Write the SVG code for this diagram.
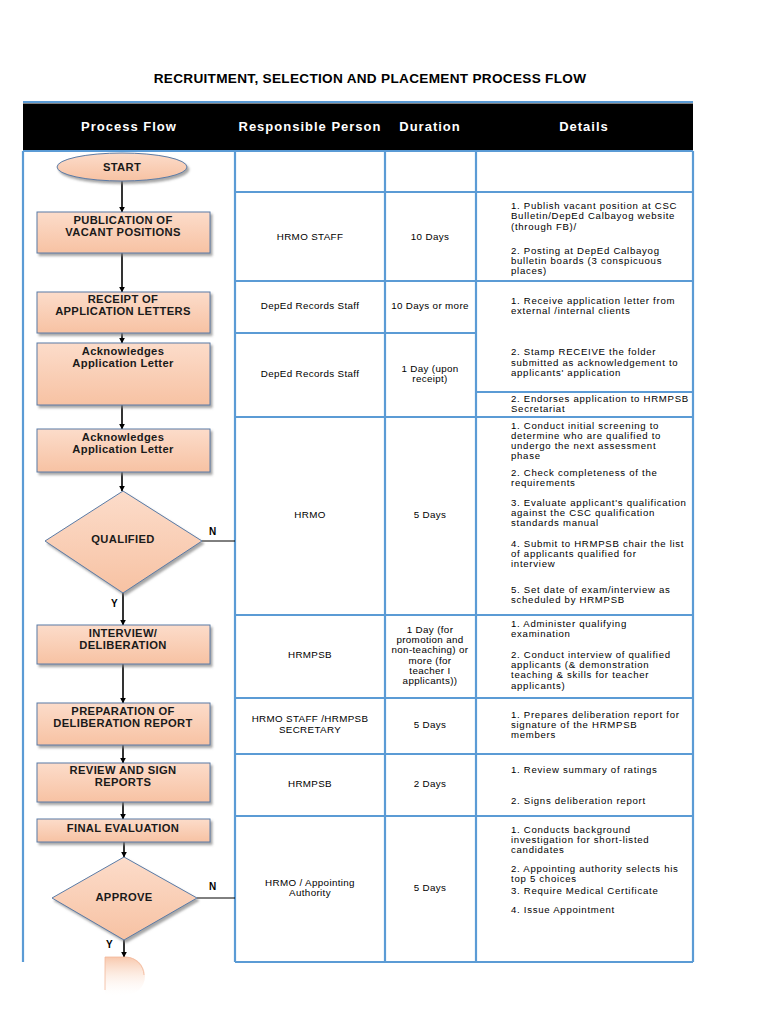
<svg xmlns="http://www.w3.org/2000/svg" width="768" height="1024" viewBox="0 0 768 1024">
<defs>
<linearGradient id="peach" x1="0" y1="0" x2="0" y2="1">
<stop offset="0" stop-color="#FCDCCA"/>
<stop offset="1" stop-color="#F7C2A3"/>
</linearGradient>
<linearGradient id="fade" x1="0" y1="0" x2="0" y2="1">
<stop offset="0" stop-color="#F8C8AC"/>
<stop offset="1" stop-color="#FFFFFF" stop-opacity="0.2"/>
</linearGradient>
<filter id="sh" x="-10%" y="-10%" width="130%" height="140%">
<feDropShadow dx="2" dy="2.5" stdDeviation="1.2" flood-color="#808080" flood-opacity="0.7"/>
</filter>
<marker id="ah" viewBox="0 0 10 10" refX="9" refY="5" markerWidth="6" markerHeight="6" orient="auto" markerUnits="userSpaceOnUse">
<path d="M0,0 L10,5 L0,10 z" fill="#000"/>
</marker>
</defs>
<style>
.title{font-family:"Liberation Sans",Arial,sans-serif;font-weight:bold;font-size:13.6px;letter-spacing:0.3px;fill:#000}
.hdr{font-family:"Liberation Sans",Arial,sans-serif;font-weight:bold;font-size:13px;fill:#fff;letter-spacing:1px}
.grid{stroke:#5B9BD5;stroke-width:2.2;fill:none}
.box{fill:url(#peach);stroke:#5A7BA6;stroke-width:1;filter:url(#sh)}
.bt{font-family:"Liberation Sans",Arial,sans-serif;font-weight:bold;font-size:11.2px;letter-spacing:0.35px;fill:#1a1a1a;text-anchor:middle}
.lbl{font-family:"Liberation Sans",Arial,sans-serif;font-weight:bold;font-size:10px;fill:#000}
.c{font-family:"Liberation Sans",Arial,sans-serif;font-size:9.8px;letter-spacing:0.35px;fill:#000;text-anchor:middle}
.d{font-family:"Liberation Sans",Arial,sans-serif;font-size:9.6px;letter-spacing:0.72px;fill:#000}
.ar{stroke:#000;stroke-width:1.6;fill:none;marker-end:url(#ah)}
.ln{stroke:#000;stroke-width:1;fill:none}
</style>
<rect width="768" height="1024" fill="#fff"/>
<text class="title" x="370" y="83" text-anchor="middle">RECRUITMENT, SELECTION AND PLACEMENT PROCESS FLOW</text>

<g id="table">
<line x1="23" y1="102" x2="693" y2="102" stroke="#5B9BD5" stroke-width="2"/>
<rect x="23" y="103.5" width="670" height="47" fill="#000"/>
<text class="hdr" x="129" y="131" text-anchor="middle">Process Flow</text>
<text class="hdr" x="310" y="131" text-anchor="middle">Responsible Person</text>
<text class="hdr" x="430" y="131" text-anchor="middle">Duration</text>
<text class="hdr" x="584" y="131" text-anchor="middle">Details</text>
<line class="grid" x1="23" y1="151" x2="693" y2="151"/>
<line class="grid" x1="23" y1="151" x2="23" y2="962"/>
<line class="grid" x1="235" y1="151" x2="235" y2="962"/>
<line class="grid" x1="385" y1="151" x2="385" y2="962"/>
<line class="grid" x1="476" y1="151" x2="476" y2="962"/>
<line class="grid" x1="693" y1="151" x2="693" y2="962"/>
<line class="grid" x1="235" y1="192" x2="693" y2="192"/>
<line class="grid" x1="235" y1="281" x2="693" y2="281"/>
<line class="grid" x1="235" y1="333" x2="476" y2="333"/>
<line class="grid" x1="476" y1="392" x2="693" y2="392"/>
<line class="grid" x1="235" y1="417" x2="693" y2="417"/>
<line class="grid" x1="235" y1="615" x2="693" y2="615"/>
<line class="grid" x1="235" y1="698" x2="693" y2="698"/>
<line class="grid" x1="235" y1="754" x2="693" y2="754"/>
<line class="grid" x1="235" y1="816" x2="693" y2="816"/>
<line class="grid" x1="235" y1="962" x2="693" y2="962"/>
</g>

<g id="responsible">
<text class="c" x="310" y="240">HRMO STAFF</text>
<text class="c" x="310" y="309">DepEd Records Staff</text>
<text class="c" x="310" y="377">DepEd Records Staff</text>
<text class="c" x="310" y="518">HRMO</text>
<text class="c" x="310" y="658">HRMPSB</text>
<text class="c" x="310" y="722">HRMO STAFF /HRMPSB</text>
<text class="c" x="310" y="733">SECRETARY</text>
<text class="c" x="310" y="787">HRMPSB</text>
<text class="c" x="310" y="886">HRMO / Appointing</text>
<text class="c" x="310" y="896">Authority</text>
</g>

<g id="duration">
<text class="c" x="430" y="240">10 Days</text>
<text class="c" x="430" y="309">10 Days or more</text>
<text class="c" x="430" y="372">1 Day (upon</text>
<text class="c" x="430" y="382">receipt)</text>
<text class="c" x="430" y="518">5 Days</text>
<text class="c" x="430" y="633">1 Day (for</text>
<text class="c" x="430" y="643">promotion and</text>
<text class="c" x="430" y="653">non-teaching) or</text>
<text class="c" x="430" y="664">more (for</text>
<text class="c" x="430" y="674">teacher I</text>
<text class="c" x="430" y="684">applicants))</text>
<text class="c" x="430" y="728">5 Days</text>
<text class="c" x="430" y="787">2 Days</text>
<text class="c" x="430" y="891">5 Days</text>
</g>

<g id="details">
<text class="d" x="511" y="209">1. Publish vacant position at CSC</text>
<text class="d" x="511" y="219">Bulletin/DepEd Calbayog website</text>
<text class="d" x="511" y="230">(through FB)/</text>
<text class="d" x="511" y="254">2. Posting at DepEd Calbayog</text>
<text class="d" x="511" y="264">bulletin boards (3 conspicuous</text>
<text class="d" x="511" y="274">places)</text>
<text class="d" x="511" y="304">1. Receive application letter from</text>
<text class="d" x="511" y="314">external /internal clients</text>
<text class="d" x="511" y="355">2. Stamp RECEIVE the folder</text>
<text class="d" x="511" y="366">submitted as acknowledgement to</text>
<text class="d" x="511" y="376">applicants' application</text>
<text class="d" x="511" y="402">2. Endorses application to HRMPSB</text>
<text class="d" x="511" y="412">Secretariat</text>
<text class="d" x="511" y="429">1. Conduct initial screening to</text>
<text class="d" x="511" y="439">determine who are qualified to</text>
<text class="d" x="511" y="449">undergo the next assessment</text>
<text class="d" x="511" y="459">phase</text>
<text class="d" x="511" y="476">2. Check completeness of the</text>
<text class="d" x="511" y="486">requirements</text>
<text class="d" x="511" y="506">3. Evaluate applicant's qualification</text>
<text class="d" x="511" y="516">against the CSC qualification</text>
<text class="d" x="511" y="526">standards manual</text>
<text class="d" x="511" y="547">4. Submit to HRMPSB chair the list</text>
<text class="d" x="511" y="557">of applicants qualified for</text>
<text class="d" x="511" y="567">interview</text>
<text class="d" x="511" y="593">5. Set date of exam/interview as</text>
<text class="d" x="511" y="603">scheduled by HRMPSB</text>
<text class="d" x="511" y="627">1. Administer qualifying</text>
<text class="d" x="511" y="637">examination</text>
<text class="d" x="511" y="658">2. Conduct interview of qualified</text>
<text class="d" x="511" y="668">applicants (&amp; demonstration</text>
<text class="d" x="511" y="678">teaching &amp; skills for teacher</text>
<text class="d" x="511" y="689">applicants)</text>
<text class="d" x="511" y="718">1. Prepares deliberation report for</text>
<text class="d" x="511" y="728">signature  of the HRMPSB</text>
<text class="d" x="511" y="738">members</text>
<text class="d" x="511" y="773">1. Review summary of ratings</text>
<text class="d" x="511" y="804">2. Signs deliberation report</text>
<text class="d" x="511" y="833">1. Conducts background</text>
<text class="d" x="511" y="843">investigation for short-listed</text>
<text class="d" x="511" y="853">candidates</text>
<text class="d" x="511" y="872">2. Appointing authority selects  his</text>
<text class="d" x="511" y="882">top 5 choices</text>
<text class="d" x="511" y="894">3. Require Medical Certificate</text>
<text class="d" x="511" y="913">4. Issue Appointment</text>
</g>

<g id="connectors">
<line class="ar" x1="122" y1="181" x2="122" y2="212"/>
<line class="ar" x1="122" y1="253" x2="122" y2="292"/>
<line class="ar" x1="122" y1="333" x2="122" y2="343"/>
<line class="ar" x1="122" y1="405" x2="122" y2="429"/>
<line class="ar" x1="122" y1="472" x2="122" y2="491"/>
<line class="ar" x1="123" y1="593" x2="123" y2="625"/>
<line class="ar" x1="123" y1="664" x2="123" y2="703"/>
<line class="ar" x1="123" y1="745" x2="123" y2="763"/>
<line class="ar" x1="123" y1="802" x2="123" y2="819"/>
<line class="ar" x1="124" y1="842" x2="124" y2="857"/>
<line class="ar" x1="124" y1="940" x2="124" y2="957"/>
<line class="ln" x1="202" y1="541" x2="235" y2="541"/>
<line class="ln" x1="197" y1="898" x2="235" y2="898"/>
<text class="lbl" x="209" y="535">N</text>
<text class="lbl" x="111" y="607">Y</text>
<text class="lbl" x="209" y="890">N</text>
<text class="lbl" x="106" y="948">Y</text>
</g>

<g id="start">
<ellipse class="box" cx="122" cy="167" rx="65" ry="14"/>
<text class="bt" x="122" y="171">START</text>
</g>
<g id="publication">
<rect class="box" x="37" y="212" width="173" height="41"/>
<text class="bt" x="123" y="224">PUBLICATION OF</text>
<text class="bt" x="123" y="236">VACANT POSITIONS</text>
</g>
<g id="receipt">
<rect class="box" x="37" y="292" width="173" height="41"/>
<text class="bt" x="123" y="303">RECEIPT OF</text>
<text class="bt" x="123" y="315">APPLICATION  LETTERS</text>
</g>
<g id="ack1">
<rect class="box" x="37" y="343" width="173" height="62"/>
<text class="bt" x="123" y="355">Acknowledges</text>
<text class="bt" x="123" y="367">Application Letter</text>
</g>
<g id="ack2">
<rect class="box" x="37" y="429" width="173" height="43"/>
<text class="bt" x="123" y="441">Acknowledges</text>
<text class="bt" x="123" y="453">Application Letter</text>
</g>
<g id="qualified">
<polygon class="box" points="123,491 202,541 123,593 45,541"/>
<text class="bt" x="123" y="543">QUALIFIED</text>
</g>
<g id="interview">
<rect class="box" x="37" y="625" width="173" height="39"/>
<text class="bt" x="123" y="637">INTERVIEW/</text>
<text class="bt" x="123" y="649">DELIBERATION</text>
</g>
<g id="preparation">
<rect class="box" x="37" y="703" width="173" height="42"/>
<text class="bt" x="123" y="715">PREPARATION OF</text>
<text class="bt" x="123" y="727">DELIBERATION REPORT</text>
</g>
<g id="review">
<rect class="box" x="37" y="763" width="173" height="39"/>
<text class="bt" x="123" y="774">REVIEW AND SIGN</text>
<text class="bt" x="123" y="786">REPORTS</text>
</g>
<g id="final">
<rect class="box" x="37" y="819" width="173" height="23"/>
<text class="bt" x="123" y="832">FINAL EVALUATION</text>
</g>
<g id="approve">
<polygon class="box" points="124,857 197,898 124,940 52,898"/>
<text class="bt" x="124" y="901">APPROVE</text>
</g>
<g id="end">
<path d="M105,957 H126 A19,19 0 0 1 126,995 H105 Z" fill="url(#fade)"/>
<path d="M105,990 V957 H126 A19,19 0 0 1 144,975" fill="none" stroke="#F3B89A" stroke-width="0.8"/>
</g>
</svg>
